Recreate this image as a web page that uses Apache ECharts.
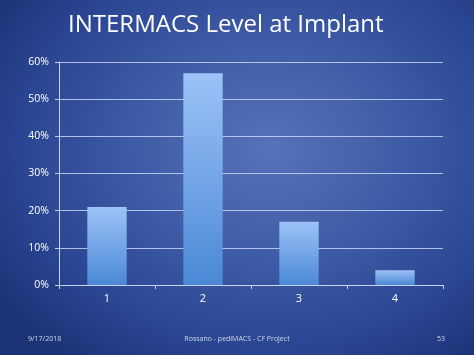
<!DOCTYPE html>
<html><head><meta charset="utf-8">
<script src="https://cdn.jsdelivr.net/npm/echarts@6/dist/echarts.min.js"></script>
<style>
html,body{margin:0;padding:0;width:474px;height:355px;overflow:hidden;}
body{background:radial-gradient(ellipse 70% 75% at 57% 42%, #5672b8 0%, #3f5ca6 40%, #2a4592 75%, #1b3276 100%);}
#c{width:474px;height:355px;}
</style></head>
<body><div id="c"></div>
<script>
const title = "INTERMACS Level at Implant";
const categories = ["1","2","3","4"];
const values = [21, 57, 17, 4];
const yTicks = [0,10,20,30,40,50,60];
const footerLeft = "9/17/2018";
const footerCenter = "Rossano - pediMACS - CF Project";
const footerRight = "53";

const chart = echarts.init(document.getElementById('c'), null, {renderer:'canvas'});
chart.setOption({
  backgroundColor: 'transparent',
  animation: false,
  title: {
    text: title, left: 63, top: 8,
    textStyle: {color:'#ffffff', fontFamily:'Open Sans', fontWeight:'normal', fontSize:24}
  },
  graphic: [
    {type:'text', left:28, top:335, style:{text:footerLeft, fill:'#d0d8ea', font:'7px "Open Sans"'}},
    {type:'text', left:'center', top:335, style:{text:footerCenter, fill:'#d0d8ea', font:'7px "Open Sans"'}},
    {type:'text', left:437, top:335, style:{text:footerRight, fill:'#d0d8ea', font:'7px "Open Sans"'}}
  ],
  grid: {left:59, right:31, top:62, bottom:70, containLabel:false},
  xAxis: {
    type:'category', data: categories,
    axisLine:{lineStyle:{color:'#c8d2ec', width:1}},
    axisTick:{show:true, alignWithLabel:false, length:4, lineStyle:{color:'#c8d2ec'}},
    axisLabel:{color:'#ffffff', fontSize:11, fontFamily:'Open Sans', margin:8}
  },
  yAxis: {
    type:'value', min:0, max:60, interval:10,
    axisLine:{show:true, lineStyle:{color:'#c8d2ec', width:1}},
    axisTick:{show:true, length:4, lineStyle:{color:'#c8d2ec'}},
    axisLabel:{color:'#ffffff', fontSize:10.5, fontFamily:'Open Sans', margin:10,
      formatter: v => yTicks.includes(v) ? v + '%' : ''},
    splitLine:{show:true, lineStyle:{color:'rgba(210,220,245,0.8)', width:1}}
  },
  series: [{
    type:'bar', data: values, barWidth:'41%',
    itemStyle:{color: new echarts.graphic.LinearGradient(0,0,0,1,[
      {offset:0, color:'#9dc3f7'},{offset:1, color:'#4a88d6'}])}
  }]
});
</script></body></html>
